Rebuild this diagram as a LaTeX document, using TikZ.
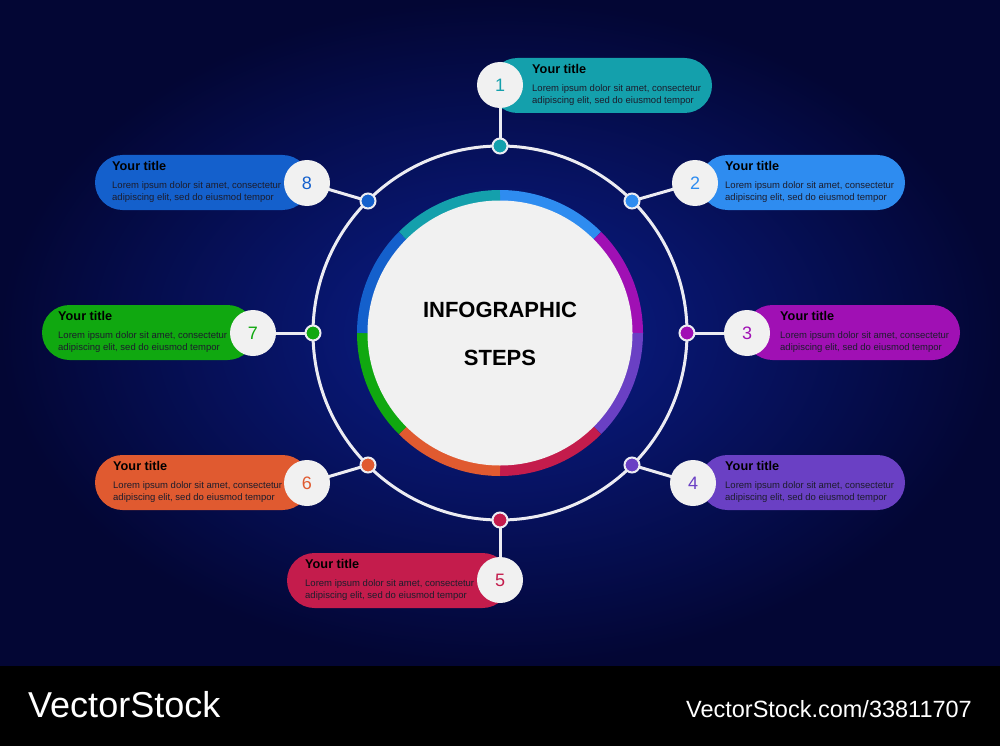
\documentclass[tikz,border=0pt]{standalone}
\usepackage{fontspec}
\setmainfont{Liberation Sans}
\definecolor{bgin}{HTML}{0A1E8C}
\definecolor{bgout}{HTML}{030634}
\definecolor{c1}{HTML}{14A0AC}
\definecolor{c2}{HTML}{2E8CF0}
\definecolor{c3}{HTML}{A010B4}
\definecolor{c4}{HTML}{6A40C4}
\definecolor{c5}{HTML}{C41C4C}
\definecolor{c6}{HTML}{E05A30}
\definecolor{c7}{HTML}{10A810}
\definecolor{c8}{HTML}{1460CC}
\definecolor{diskc}{HTML}{F1F1F1}
\definecolor{linec}{HTML}{ECECF2}
\definecolor{bodyc}{HTML}{1C1C2C}
\tikzset{
  ringline/.style={draw=linec, line width=3pt},
  conn/.style={draw=linec, line width=3pt},
  pill/.style={rectangle, rounded corners=27.5pt, minimum height=55pt, inner sep=0pt, draw=none},
  numc/.style={circle, fill=diskc, minimum size=46pt, inner sep=0pt, font=\fontsize{18}{18}\selectfont},
  dotc/.style={circle, draw=linec, line width=2pt, minimum size=15pt, inner sep=0pt},
  ttl/.style={anchor=base west, inner sep=0pt, text=black, font=\fontsize{12.7}{14}\selectfont\bfseries},
  bodytxt/.style={anchor=base west, inner sep=0pt, text=bodyc, font=\fontsize{9.5}{11}\selectfont},
  seg/.style={line width=11pt}
}
\begin{document}
\begin{tikzpicture}[x=1pt,y=-1pt]
\useasboundingbox (0,0) rectangle (1000,746);
% background
\shade[inner color=bgin, outer color=bgout] (0,0) rectangle (1000,666);
\fill[black] (0,666) rectangle (1000,746);
% centre
\coordinate (c) at (500,333);
% outer ring
\draw[ringline] (c) circle[radius=187pt];
% dot and number coordinates
\foreach \i/\dx/\dy/\cx/\cy in {1/500/146/500/85, 2/632/201/695/183, 3/687/333/747/333, 4/632/465/693/483,
  5/500/520/500/580, 6/368/465/307/483, 7/313/333/253/333, 8/368/201/307/183}{
  \coordinate (d\i) at (\dx,\dy);
  \coordinate (n\i) at (\cx,\cy);
}
% connectors
\foreach \i in {1,...,8}{ \draw[conn] (d\i) -- (n\i); }
% colored ring segments
\foreach \col/\a/\b in {c2/90/45, c3/45/0, c4/0/-45, c5/-45/-90, c6/-90/-135, c7/-135/-180, c8/180/135, c1/135/90}{
  \draw[seg, draw=\col] (c) ++(\a:137.5pt) arc[start angle=\a, end angle=\b, radius=137.5pt];
}
% disk
\node[circle, fill=diskc, minimum size=265pt, inner sep=0pt] (disk) at (c) {};
\node[font=\fontsize{22}{22}\selectfont\bfseries, text=black, inner sep=0pt] (h1) at (500,310) {INFOGRAPHIC};
\node[font=\fontsize{22}{22}\selectfont\bfseries, text=black, inner sep=0pt] (h2) at (500,358) {STEPS};
% pills, texts, dots, numbers
\foreach \i/\col/\pa/\pb/\pt/\tx in {1/c1/490/712/58/532, 2/c2/700/905/155/725, 3/c3/745/960/305/780, 4/c4/700/905/455/725,
  5/c5/287/510/553/305, 6/c6/95/310/455/113, 7/c7/42/255/305/58, 8/c8/95/310/155/112}{
  \pgfmathsetmacro{\pw}{\pb-\pa}
  \pgfmathsetmacro{\pcx}{(\pa+\pb)/2}
  \pgfmathsetmacro{\pcy}{\pt+27.5}
  \node[pill, fill=\col, minimum width=\pw pt] (p\i) at (\pcx,\pcy) {};
  \node[ttl] (t\i) at (\tx,\pt+15.5) {Your title};
  \node[bodytxt] (la\i) at (\tx,\pt+33.5) {Lorem ipsum dolor sit amet, consectetur};
  \node[bodytxt] (lb\i) at (\tx,\pt+45.5) {adipiscing elit, sed do eiusmod tempor};
  \node[dotc, fill=\col] (dot\i) at (d\i) {};
  \node[numc, text=\col] (num\i) at (n\i) {\i};
}
% footer
\node[anchor=base west, inner sep=0pt, text=white, font=\fontsize{36}{36}\selectfont] (vs) at (28,717) {VectorStock};
\node[anchor=base east, inner sep=0pt, text=white, font=\fontsize{23.5}{24}\selectfont] (vsid) at (972,717) {VectorStock.com/33811707};
\end{tikzpicture}
\end{document}
